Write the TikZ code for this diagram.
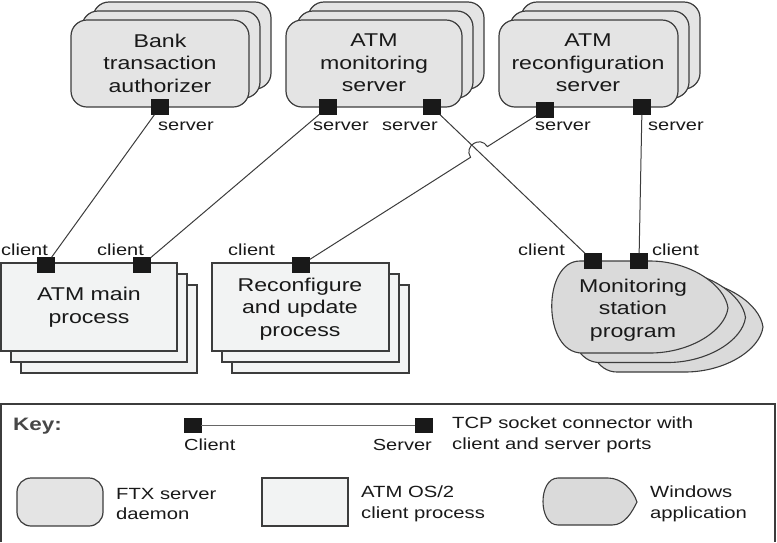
\documentclass[tikz,border=0pt]{standalone}
\usepackage{fontspec}
\setmainfont{Liberation Sans}[FakeStretch=1.25]
\usetikzlibrary{calc}
\definecolor{srvfill}{RGB}{228,228,228}
\definecolor{clifill}{RGB}{242,243,243}
\definecolor{winfill}{RGB}{218,218,218}
\definecolor{edgec}{RGB}{60,60,60}
\definecolor{ink}{RGB}{25,25,25}
\begin{document}
\begin{tikzpicture}[x=1pt,y=-1pt,
  srv/.style={draw=edgec, fill=srvfill, line width=1.2pt, rounded corners=16pt},
  cli/.style={draw=edgec, fill=clifill, line width=1.2pt},
  win/.style={draw=edgec, fill=winfill, line width=1.1pt},
  port/.style={draw=ink, fill=ink, minimum width=17pt, minimum height=15pt, inner sep=0pt},
  wire/.style={draw=edgec, line width=1pt},
  big/.style={font=\fontsize{18.5}{22.5}\selectfont, text=ink, align=center, inner sep=0pt},
  lbl/.style={font=\fontsize{16}{19}\selectfont, text=ink, inner sep=0pt},
  keytxt/.style={font=\fontsize{16.2}{20.5}\selectfont, text=ink, inner sep=0pt, align=left}]
\useasboundingbox (0,0) rectangle (777,542);
% server daemons (stacked rounded boxes)
\foreach \a/\b in {71/249, 286/462, 499/678} {
  \foreach \k in {2,1} {\draw[srv] (\a+11*\k, 20-9*\k) rectangle (\b+11*\k, 107-9*\k);}
  \draw[srv] (\a,20) rectangle (\b,107);
}
% client processes (stacked rectangles)
\foreach \a/\b in {1/177, 212/389} {
  \foreach \k in {2,1} {\draw[cli] (\a+10*\k, 263+11*\k) rectangle (\b+10*\k, 351+11*\k);}
  \draw[cli] (\a,263) rectangle (\b,351);
}
% windows application (stacked)
\foreach \k in {2,1,0} {
  \begin{scope}[shift={(580+17.5*\k,261+9.5*\k)}]
    \draw[win] (0,0) -- (70,0) .. controls (110,0) and (145,24) .. (148,47)
      .. controls (145,70) and (110,92) .. (70,92) -- (2,92)
      .. controls (-38,92) and (-38,0) .. (0,0) -- cycle;
  \end{scope}
}
% texts
\node[big] (bank) at (160,63) {Bank\\transaction\\authorizer};
\node[big] (amon) at (374,63) {ATM\\monitoring\\server};
\node[big] (arec) at (588,63) {ATM\\reconfiguration\\server};
\node[big] (amain) at (89,307) {ATM main\\process};
\node[big] (aupd) at (300,309) {Reconfigure\\and update\\process};
\node[big] (mon) at (633,310) {Monitoring\\station\\program};
% ports
\node[port] (bs) at (160,107) {};
\node[port] (ms1) at (328,107) {};
\node[port] (ms2) at (432,107) {};
\node[port] (rs1) at (545,110) {};
\node[port] (rs2) at (642,107) {};
\node[port] (mc1) at (46,265) {};
\node[port] (mc2) at (142,265) {};
\node[port] (uc) at (301,265) {};
\node[port] (wc1) at (593,261) {};
\node[port] (wc2) at (639,261) {};
% port labels
\node[lbl, anchor=base west] (lbs) at (158,130.5) {server};
\node[lbl, anchor=base west] (lms1) at (313,130.5) {server};
\node[lbl, anchor=base west] (lms2) at (382,130.5) {server};
\node[lbl, anchor=base west] (lrs1) at (535,130.5) {server};
\node[lbl, anchor=base west] (lrs2) at (648,130.5) {server};
\node[lbl, anchor=base west] (lmc1) at (1,255) {client};
\node[lbl, anchor=base west] (lmc2) at (97,255) {client};
\node[lbl, anchor=base west] (luc) at (228,255) {client};
\node[lbl, anchor=base west] (lwc1) at (518,255) {client};
\node[lbl, anchor=base west] (lwc2) at (652,255) {client};
% connectors
\draw[wire] (bs) -- (mc1);
\draw[wire] (ms1) -- (mc2);
\draw[wire] (ms2) -- (wc1);
\draw[wire] (rs2) -- (wc2);
\coordinate (X) at (intersection of ms2--wc1 and rs1--uc);
\coordinate (P1) at ($(X)!10pt!(rs1)$);
\coordinate (P2) at ($(X)!10pt!(uc)$);
\draw[wire] (rs1) -- (P1) .. controls ($(P1)!1.333!-90:(X)$) and ($(P2)!1.333!90:(X)$) .. (P2) -- (uc);
% key
\draw[draw=edgec, line width=1.3pt] (1,542) -- (1,404) -- (775,404) -- (775,542);
\node[font=\bfseries\fontsize{18}{20}\selectfont, text=black!72, anchor=base west, inner sep=0pt] (keyt) at (13,430) {Key:};
\node[port, minimum height=14pt] (kc) at (192.5,425) {};
\node[port, minimum height=14pt] (ks) at (423.5,425) {};
\draw[wire, line width=0.8pt, draw=black!60] (kc) -- (ks);
\node[lbl, anchor=base west] (kcl) at (184,450) {Client};
\node[lbl, anchor=base east] (ksl) at (432,450) {Server};
\node[keytxt, anchor=west] (ktcp) at (452,435) {TCP socket connector with\\client and server ports};
\draw[srv, rounded corners=14pt] (17,478) rectangle (103,526);
\node[keytxt, anchor=west] (kftx) at (116,504) {FTX server\\daemon};
\draw[cli] (262,478) rectangle (348,526);
\node[keytxt, anchor=west] (kos) at (361,504) {ATM OS/2\\client process};
\draw[win] (558,478) -- (608,478) .. controls (622,478) and (633,490) .. (637,502)
  .. controls (632,512) and (625,525) .. (612,525) -- (558,525)
  .. controls (538,525) and (538,478) .. (558,478) -- cycle;
\node[keytxt, anchor=west] (kwin) at (650,504) {Windows\\application};
\end{tikzpicture}
\end{document}
